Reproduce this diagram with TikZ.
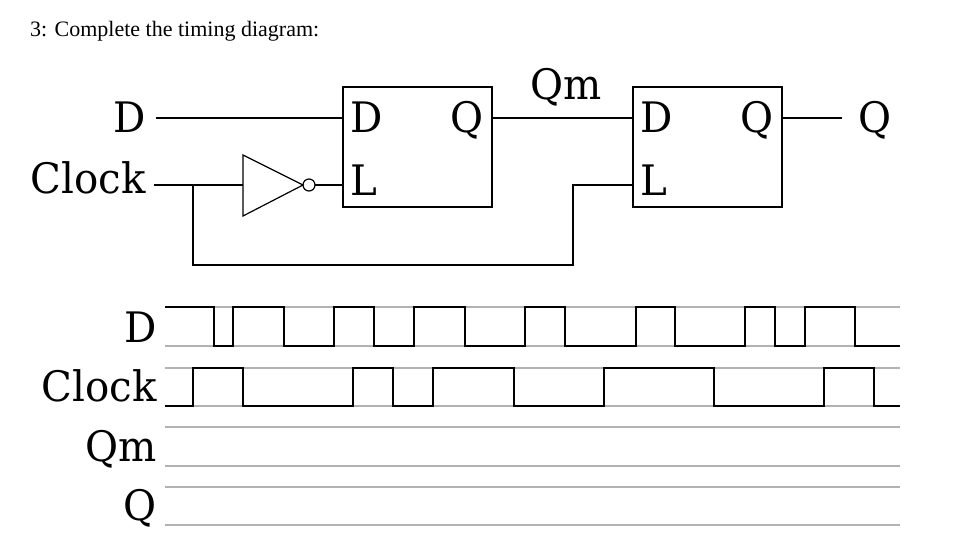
\documentclass[tikz,border=0pt]{standalone}
\usepackage{fontspec}
\setmainfont{DejaVu Serif}[FakeStretch=0.96]
\newfontfamily\titlefont{Liberation Serif}
\begin{document}
\begin{tikzpicture}[x=1pt,y=-1pt,
  lbl/.style={font=\fontsize{42}{42}\selectfont, inner sep=0pt, anchor=base},
  wlbl/.style={font=\fontsize{42}{42}\selectfont, inner sep=0pt, anchor=base east},
  wire/.style={line width=1.2pt},
  grid/.style={gray!60, line width=1.2pt},
  wave/.style={line width=1.6pt}]
\useasboundingbox (0,0) rectangle (956,556);

%title
\node[anchor=base west, inner sep=0pt, font=\titlefont\fontsize{22}{22}\selectfont] (title) at (30,37) {3: Complete the timing diagram:};

%latches
\draw[wire] (343,87) rectangle (492,207);
\draw[wire] (633,87) rectangle (782,207);
\node[lbl] (d1) at (367,133) {D};
\node[lbl] (q1) at (467,133) {Q};
\node[lbl] (l1) at (364,196) {L};
\node[lbl] (d2) at (657,133) {D};
\node[lbl] (q2) at (757,133) {Q};
\node[lbl] (l2) at (654,196) {L};

%inputs
\node[lbl, anchor=base east] (din) at (146,133) {D};
\node[lbl, anchor=base east] (clk) at (146,194) {Clock};
\node[lbl] (qm) at (566,100) {Qm};
\node[lbl, anchor=base west] (qout) at (858,133) {Q};
\draw[wire] (156,118) -- (343,118);
\draw[wire] (492,118) -- (633,118);
\draw[wire] (782,118) -- (842,118);
\draw[wire] (154,185) -- (243,185);
\draw[wire] (243,155) -- (303,185) -- (243,216) -- cycle;
\draw[wire] (309,185) circle (6);
\draw[wire] (315,185) -- (343,185);
\draw[wire] (193,185) -- (193,265) -- (573,265) -- (573,185) -- (633,185);

%timing grid
\foreach \y in {307,346,368,406,427,466,487,525}
  \draw[grid] (165,\y) -- (900,\y);
\node[wlbl] (wd) at (157,342) {D};
\node[wlbl] (wc) at (157,401) {Clock};
\node[wlbl] (wqm) at (157,461) {Qm};
\node[wlbl] (wq) at (157,520) {Q};

%waveforms
\draw[wave] (165,307) -- (214,307) -- (214,346) -- (233,346) -- (233,307) -- (284,307) -- (284,346)
  -- (334,346) -- (334,307) -- (374,307) -- (374,346) -- (414,346) -- (414,307) -- (465,307) -- (465,346)
  -- (525,346) -- (525,307) -- (565,307) -- (565,346) -- (636,346) -- (636,307) -- (675,307) -- (675,346)
  -- (745,346) -- (745,307) -- (775,307) -- (775,346) -- (805,346) -- (805,307) -- (855,307) -- (855,346) -- (900,346);
\draw[wave] (165,406) -- (193,406) -- (193,368) -- (243,368) -- (243,406) -- (353,406) -- (353,368)
  -- (393,368) -- (393,406) -- (433,406) -- (433,368) -- (514,368) -- (514,406) -- (604,406) -- (604,368)
  -- (714,368) -- (714,406) -- (824,406) -- (824,368) -- (874,368) -- (874,406) -- (900,406);
\end{tikzpicture}
\end{document}
